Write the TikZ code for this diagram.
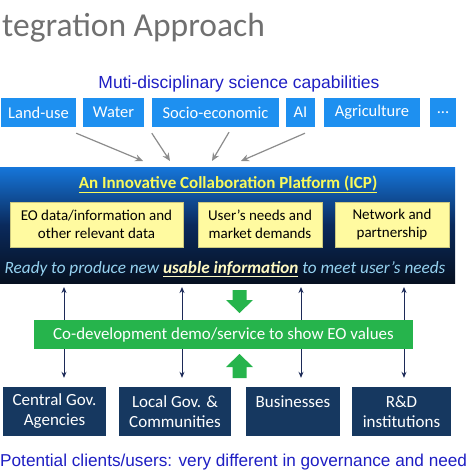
\documentclass[tikz,border=0pt]{standalone}
\usepackage{fontspec}
\setmainfont{Carlito}
\newfontfamily\arialfont{Liberation Sans}
\usepackage{tikz}
\usetikzlibrary{arrows.meta}

\definecolor{titlegray}{RGB}{112,112,112}
\definecolor{labelblue}{RGB}{30,30,195}
\definecolor{capblue}{RGB}{30,144,240}
\definecolor{platTop}{RGB}{22,118,218}
\definecolor{platMid}{RGB}{10,42,92}
\definecolor{platBot}{RGB}{6,16,32}
\definecolor{boxyellow}{RGB}{255,250,160}
\definecolor{icpyellow}{RGB}{250,250,90}
\definecolor{readyblue}{RGB}{150,210,240}
\definecolor{usableyellow}{RGB}{255,250,195}
\definecolor{bandgreen}{RGB}{38,180,76}
\definecolor{navyline}{RGB}{28,42,88}
\definecolor{clientnavy}{RGB}{22,56,96}
\definecolor{arrowgray}{RGB}{140,140,140}

\begin{document}
\begin{tikzpicture}[x=1pt,y=-1pt,
	capbox/.style={fill=capblue,text=white,minimum height=29pt,inner sep=0pt,font=\fontsize{16.5}{19}\selectfont},
	yellowbox/.style={fill=boxyellow,draw=boxyellow!80!black,line width=0.4pt,minimum height=45pt,inner sep=0pt,align=center,font=\fontsize{15}{18}\selectfont},
	client/.style={fill=clientnavy,text=white,minimum height=49pt,inner sep=0pt,align=center,font=\fontsize{17}{20}\selectfont},
	feed/.style={draw=arrowgray,line width=1.2pt,-{Stealth[length=8pt,width=7pt]}},
	duplex/.style={draw=navyline,line width=1pt,{Stealth[length=6pt,width=5pt]}-{Stealth[length=6pt,width=5pt]}},
	fat/.style={fill=bandgreen}]
		\useasboundingbox (0,0) rectangle (474,474);

		%Titulo
		\node [anchor=base west,inner sep=0pt,text=titlegray,font=\fontsize{33.5}{40}\selectfont] (titulo) at (2,36) {tegration Approach};
		\node [anchor=base,inner sep=0pt,text=labelblue,font=\arialfont\fontsize{17.5}{21}\selectfont] (ciencia) at (239,88) {Muti-disciplinary science capabilities};

		%Capacidades
		\node [capbox,minimum width=75pt] (land) at (38.5,112.5) {Land-use};
		\node [capbox,minimum width=61pt] (water) at (113.5,112.5) {Water};
		\node [capbox,minimum width=127pt] (socio) at (215.5,112.5) {Socio-economic};
		\node [capbox,minimum width=29pt] (ai) at (300.5,112.5) {AI};
		\node [capbox,minimum width=96pt] (agri) at (372,112.5) {Agriculture};
		\node [capbox,minimum width=26pt] (more) at (443,112.5) {...};

		%Plataforma
		\node [top color=platTop,bottom color=platBot,middle color=platMid,minimum width=455pt,minimum height=116pt,inner sep=0pt] (icp) at (227.5,225) {};
		\node [anchor=base,inner sep=0pt,text=icpyellow,font=\bfseries\fontsize{17}{20}\selectfont] (icptit) at (228,188) {\underline{An Innovative Collaboration Platform (ICP)}};
		\node [yellowbox,minimum width=173pt] (eo) at (96.5,224.5) {EO data/information and\\other relevant data};
		\node [yellowbox,minimum width=124pt] (needs) at (260,224.5) {User’s needs and\\market demands};
		\node [yellowbox,minimum width=114pt] (net) at (392,224.5) {Network and\\partnership};
		\node [anchor=base,inner sep=0pt,text=readyblue,font=\itshape\fontsize{17.2}{20}\selectfont] (ready) at (225,273) {Ready to produce new \textcolor{usableyellow}{\textbf{\underline{usable information}}} to meet user’s needs};

		%Usuarios
		\node [client,minimum width=103pt] (cli1) at (54.5,411.5) {Central Gov.\\Agencies};
		\node [client,minimum width=112pt] (cli2) at (175,411.5) {Local Gov. \&\\Communities};
		\node [client,minimum width=94pt] (cli3) at (293,411.5) {Businesses\\\mbox{}};
		\node [client,minimum width=99pt] (cli4) at (401.5,411.5) {R\&D\\institutions};
		\node [anchor=base west,inner sep=0pt,text=labelblue,font=\arialfont\fontsize{17.2}{21}\selectfont] (potencial) at (0,466) {Potential clients/users: very different in governance and need};

		%Arcos
		\coordinate (tip1) at (143,161);
		\coordinate (tip2) at (170,161);
		\coordinate (tip3) at (212,161);
		\coordinate (tip4) at (241,161);
		\draw[feed] ([yshift=-6pt]land.south east)--(tip1);
		\draw[feed] ([yshift=-6pt]socio.south west)--(tip2);
		\draw[feed] ([xshift=13.5pt,yshift=-5pt]socio.south)--(tip3);
		\draw[feed] ([xshift=4.5pt,yshift=-6pt]ai.south)--(tip4);

		\coordinate (d1) at (64,287);
		\coordinate (d2) at (182,287);
		\coordinate (d3) at (301,287);
		\coordinate (d4) at (404,287);
		\draw[duplex,shorten >=9pt] (d1)--(d1 |- cli1.north);
		\draw[duplex,shorten >=9pt] (d2)--(d2 |- cli2.north);
		\draw[duplex,shorten >=9pt] (d3)--(d3 |- cli3.north);
		\draw[duplex,shorten >=9pt] (d4)--(d4 |- cli4.north);

		%Codesarrollo
		\node [fill=bandgreen,text=white,minimum width=379pt,minimum height=29pt,inner sep=0pt,font=\fontsize{16.9}{20}\selectfont] (codev) at (223.5,334.5) {Co-development demo/service to show EO values};
		\fill[fat] (232.5,290) -- (246.5,290) -- (246.5,300) -- (253,300) -- (239.5,313) -- (226,300) -- (232.5,300) -- cycle;
		\fill[fat] (232.5,378) -- (246.5,378) -- (246.5,367) -- (253,367) -- (239.5,354) -- (226,367) -- (232.5,367) -- cycle;
\end{tikzpicture}
\end{document}
